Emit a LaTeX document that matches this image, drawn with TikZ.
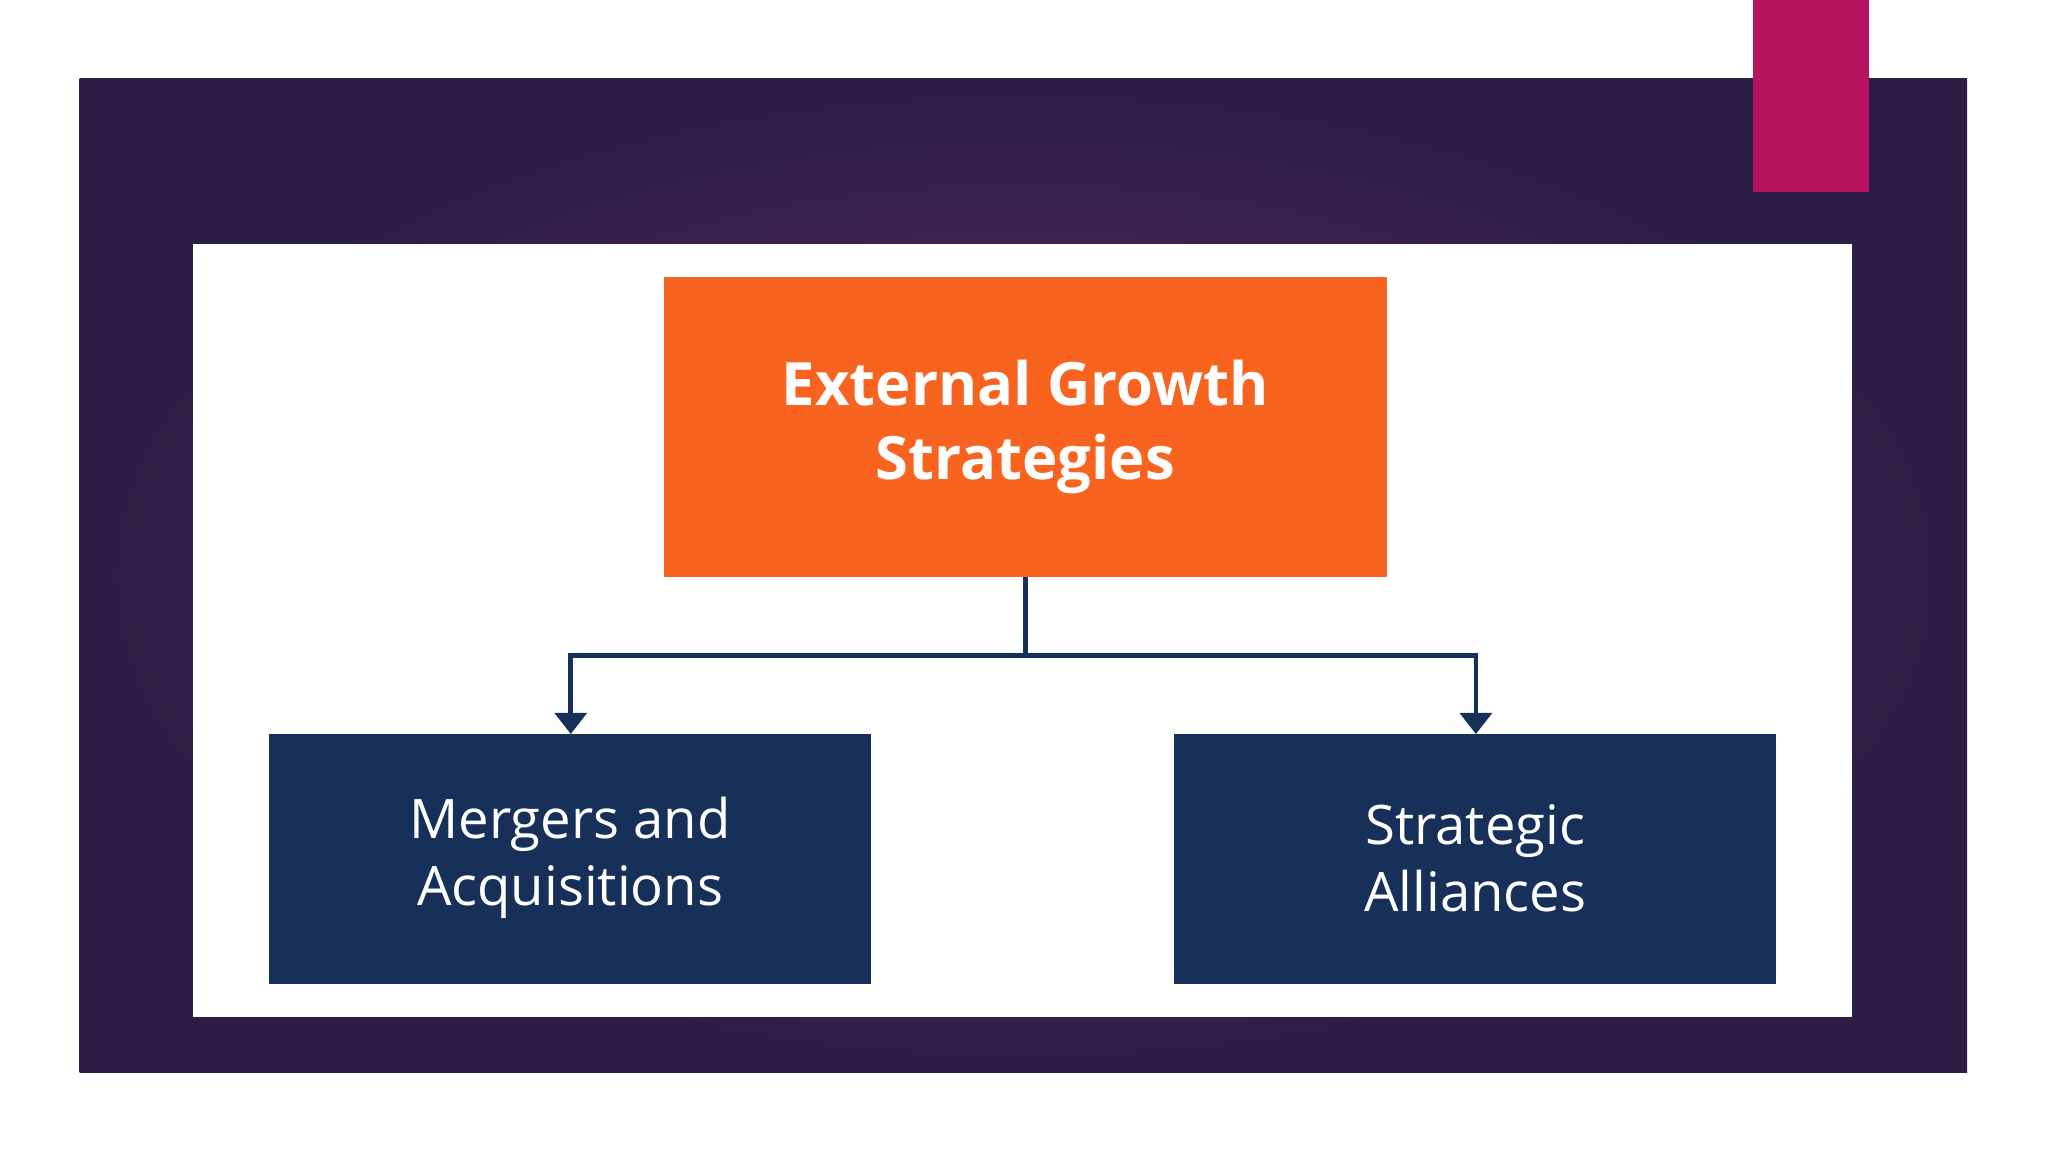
\documentclass[tikz,border=0pt]{standalone}
\usepackage{fontspec}
\setmainfont{Open Sans}
\usetikzlibrary{arrows.meta}
\definecolor{pinkc}{HTML}{B5135F}
\definecolor{orangec}{HTML}{F96320}
\definecolor{navyc}{HTML}{16305A}
\definecolor{purpin}{HTML}{5E2A5E}
\definecolor{purpout}{HTML}{2C1E44}
\begin{document}
\begin{tikzpicture}[x=0.013061cm,y=-0.013061cm,
  box/.style={draw=none,minimum width=#1},
  conn/.style={draw=navyc,line width=1.3pt,-{Triangle[width=9pt,length=6pt]}}]
\useasboundingbox (0,0) rectangle (1568,882);
\fill[white] (0,0) rectangle (1568,882);
\shade[inner color=purpin,outer color=purpout] (61,60) rectangle (1506,821);
\fill[pinkc] (1342,0) rectangle (1431,147);
\fill[white] (148,187) rectangle (1418,779);
\fill[orangec] (508,212) rectangle (1062,442);
\node (top) [text=white,align=center,font=\bfseries\fontsize{17}{21}\selectfont] at (785,327) {External Growth\\Strategies};
\fill[navyc] (206,562) rectangle (667,753);
\fill[navyc] (899,562) rectangle (1360,753);
\node (l) [text=white,align=center,font=\fontsize{15.5}{19}\selectfont] at (436.5,657) {Mergers and\\Acquisitions};
\node (r) [text=white,align=center,font=\fontsize{15.5}{19}\selectfont] at (1129.5,657) {Strategic\\Alliances};
\coordinate (tb) at (785,442);
\coordinate (lt) at (437,562);
\coordinate (rt) at (1130,562);
\draw[conn] (tb) |- (437,502) -- (lt);
\draw[conn] (tb) |- (1130,502) -- (rt);
\end{tikzpicture}
\end{document}
